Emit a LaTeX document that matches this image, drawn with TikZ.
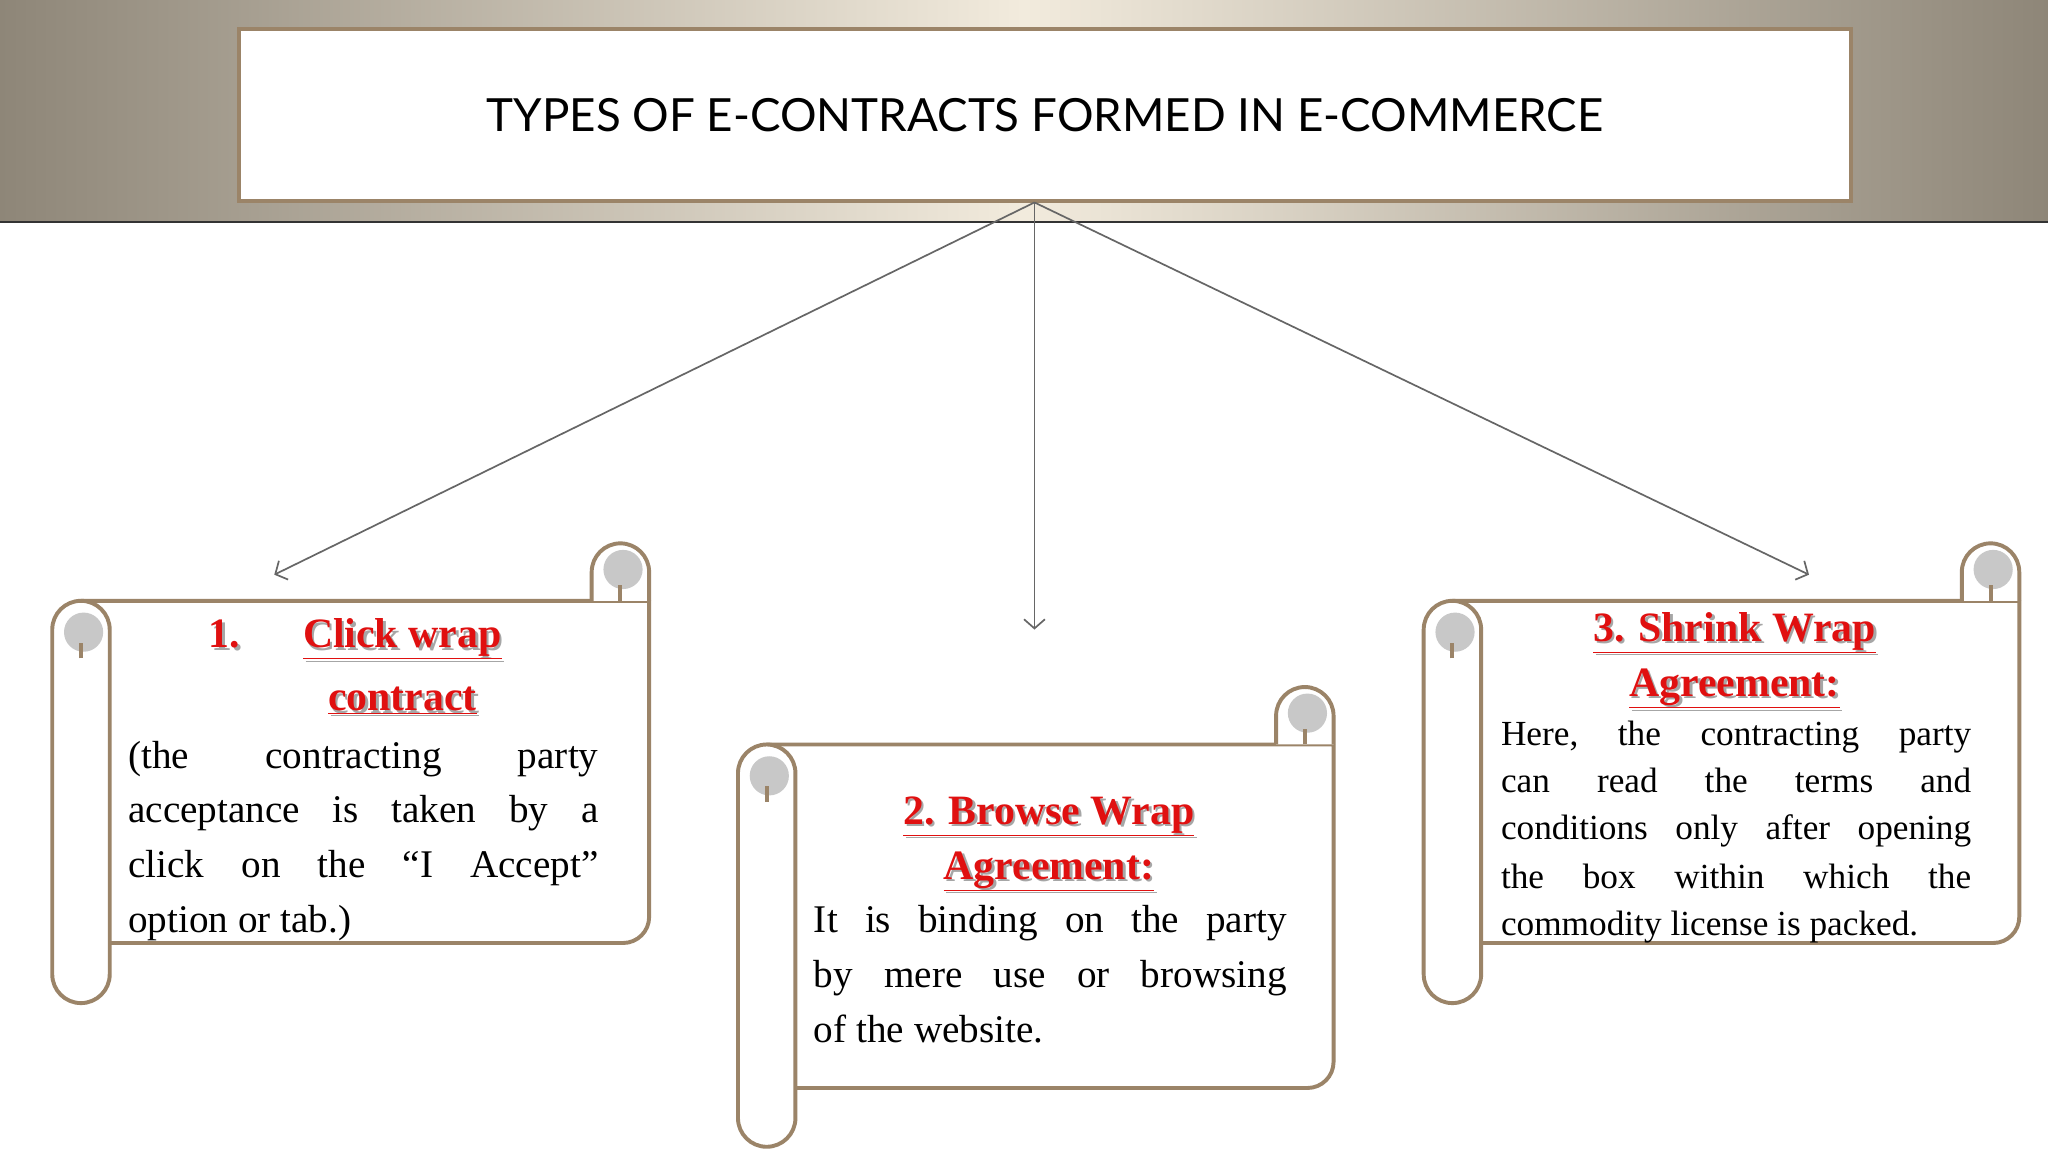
\documentclass[tikz,border=0pt]{standalone}
\usepackage{fontspec}
\setmainfont{Liberation Serif}
\newfontfamily\titlefont{Lato}
\usetikzlibrary{arrows.meta}
\definecolor{scrollbrown}{HTML}{9B8468}
\definecolor{curlgray}{HTML}{C8C8C8}
\definecolor{headred}{HTML}{E01010}
\definecolor{bandgray}{HTML}{8E8678}
\definecolor{bandlight}{HTML}{F2EBDD}
\tikzset{
  scrolline/.style={draw=scrollbrown,line width=3pt,line join=round},
  conn/.style={draw=black!60,line width=1.3pt,-{Straight Barb[length=7pt,width=16pt,line width=1.3pt]}},
  head/.style={text=headred,font=\fontsize{32}{40}\selectfont\bfseries,inner sep=0pt,anchor=base},
  headsh/.style={text=black!35,font=\fontsize{32}{40}\selectfont\bfseries,inner sep=0pt,anchor=base},
  body/.style={font=\fontsize{30}{40}\selectfont,inner sep=0pt,anchor=base west},
  bodys/.style={font=\fontsize{27}{36}\selectfont,inner sep=0pt,anchor=base west},
}
\newcommand\myscroll[5]{% L T R B RB
  \path[scrolline,fill=white] ({#1+22},#2) -- (#3,#2) -- (#3,{#4-20}) arc[start angle=0,end angle=90,radius=20] -- ({#1+22},#4) -- cycle;
  \path[scrolline,fill=white] ({#3-44},#2) -- ({#3-44},{#2-22}) arc[start angle=180,end angle=360,radius=22] -- (#3,#2);
  \path[fill=curlgray] ({#3-20},{#2-24}) circle[radius=15];
  \path[scrolline] ({#3-22},#2) -- ({#3-22},{#2-12});
  \path[scrolline,fill=white] (#1,{#2+22}) arc[start angle=180,end angle=360,radius=22] -- ({#1+44},{#5-22}) arc[start angle=0,end angle=180,radius=22] -- cycle;
  \path[fill=curlgray] ({#1+24},{#2+24}) circle[radius=15];
  \path[scrolline] ({#1+22},{#2+44}) -- ({#1+22},{#2+32});
}
\newcommand\hd[3]{\node[headsh] at ({#1+2},{#2+2}) {\underline{#3}}; \node[head] at (#1,#2) {\underline{#3}};}
\begin{document}
\begin{tikzpicture}[x=1pt,y=-1pt]
\useasboundingbox (0,0) rectangle (1568,882);
\fill[white] (0,0) rectangle (1568,882);
\shade[left color=bandgray,right color=bandgray,middle color=bandlight] (0,0) rectangle (1568,170);
\draw[black!80,line width=1.5pt] (0,170) -- (1568,170);
\node[draw=scrollbrown,line width=3pt,fill=white,minimum width=1234pt,minimum height=132pt,inner sep=0pt,
  font=\titlefont\fontsize{35}{42}\selectfont] (title) at (800,88) {TYPES OF E-CONTRACTS FORMED IN E-COMMERCE};
\coordinate (src) at (792,155);
\myscroll{40}{460}{497}{722}{768}
\myscroll{565}{570}{1021}{833}{878}
\myscroll{1090}{460}{1546}{722}{768}
\coordinate (t1) at (210,440);
\coordinate (t2) at (792,482);
\coordinate (t3) at (1385,440);
\draw[conn] (src) -- (t1);
\draw[conn] (src) -- (t2);
\draw[conn] (src) -- (t3);
% scroll 1
\node[headsh] at (174,498) {1.};\node[head] (h1a) at (172,496) {1.};
\hd{308}{496}{Click wrap}
\hd{308}{544}{contract}
\node[body] (b1a) at (98,588) {\hbox to 360pt{(the\hfill contracting\hfill party}};
\node[body] (b1b) at (98,630) {\hbox to 360pt{acceptance\hfill is\hfill taken\hfill by\hfill a}};
\node[body] (b1c) at (98,672) {\hbox to 360pt{click\hfill on\hfill the\hfill “I\hfill Accept”}};
\node[body] (b1d) at (98,714) {option or tab.)};
% scroll 2
\hd{803}{631}{2. Browse Wrap}
\hd{803}{673}{Agreement:}
\node[body] (b2a) at (623,714) {\hbox to 362pt{It\hfill is\hfill binding\hfill on\hfill the\hfill party}};
\node[body] (b2b) at (623,756) {\hbox to 362pt{by\hfill mere\hfill use\hfill or\hfill browsing}};
\node[body] (b2c) at (623,798) {of the website.};
% scroll 3
\hd{1328}{491}{3. Shrink Wrap}
\hd{1328}{533}{Agreement:}
\node[bodys] (b3a) at (1149,571) {\hbox to 360pt{Here,\hfill the\hfill contracting\hfill party}};
\node[bodys] (b3b) at (1149,607) {\hbox to 360pt{can\hfill read\hfill the\hfill terms\hfill and}};
\node[bodys] (b3c) at (1149,643) {\hbox to 360pt{conditions\hfill only\hfill after\hfill opening}};
\node[bodys] (b3d) at (1149,680) {\hbox to 360pt{the\hfill box\hfill within\hfill which\hfill the}};
\node[bodys] (b3e) at (1149,716) {commodity license is packed.};
\end{tikzpicture}
\end{document}
